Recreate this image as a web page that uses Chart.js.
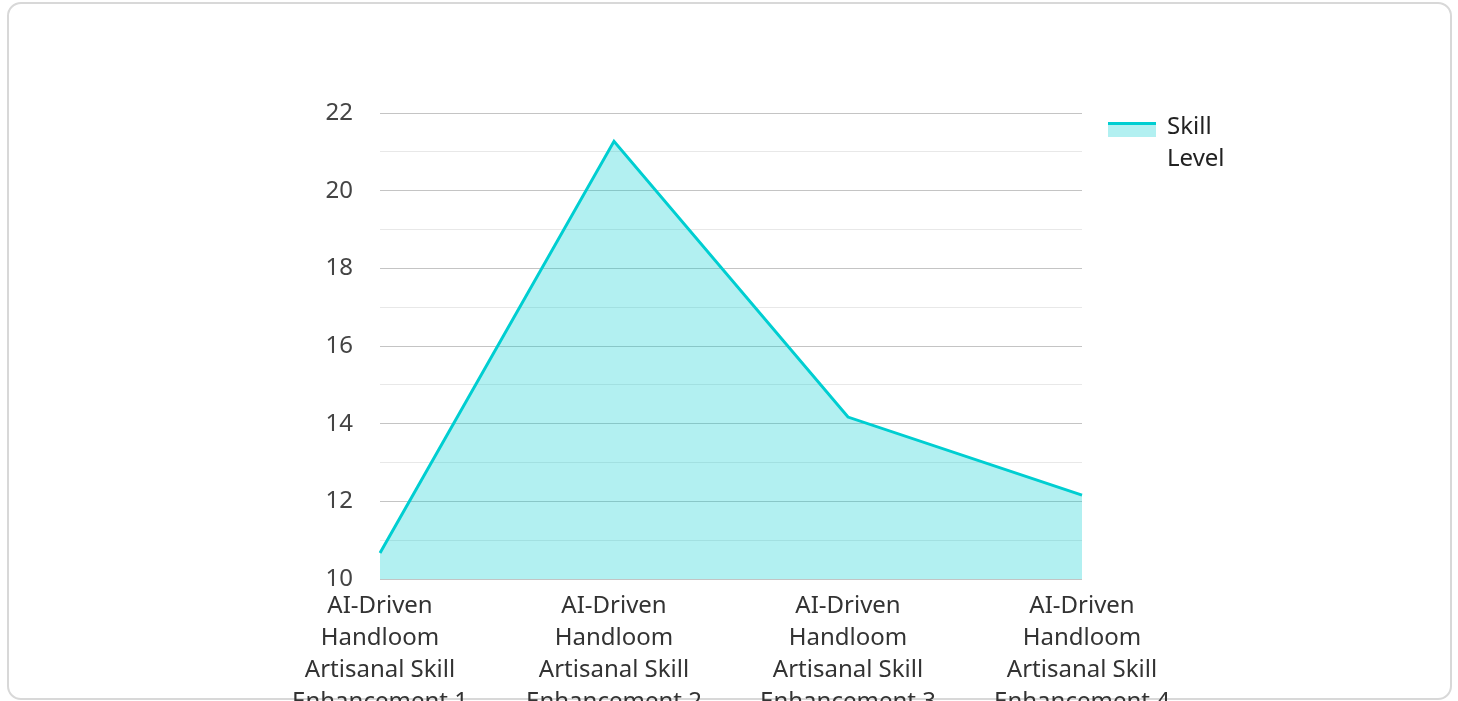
<!DOCTYPE html>
<html>
<head>
<meta charset="utf-8">
<script src="https://cdn.jsdelivr.net/npm/chart.js@4.4.0/dist/chart.umd.min.js"></script>
<style>
  html, body { margin: 0; padding: 0; width: 1458px; height: 701px; overflow: hidden; background: #fff; }
  #card { position: absolute; left: 7px; top: 2px; width: 1441px; height: 694px; border: 2px solid #d8d8d8; border-radius: 14px; }
  #wrap { position: absolute; left: 0; top: 0; width: 1458px; height: 740px; }
</style>
</head>
<body>
<div id="card"></div>
<div id="wrap"><canvas id="c" width="1458" height="740"></canvas></div>
<script>
const categories = [
  ["AI-Driven", "Handloom", "Artisanal Skill", "Enhancement 1"],
  ["AI-Driven", "Handloom", "Artisanal Skill", "Enhancement 2"],
  ["AI-Driven", "Handloom", "Artisanal Skill", "Enhancement 3"],
  ["AI-Driven", "Handloom", "Artisanal Skill", "Enhancement 4"]
];
const skillLevel = [10.67, 21.27, 14.17, 12.16];
const seriesName = ["Skill", "Level"];
const yMin = 10, yMax = 22, yStep = 1;

const LINE = '#00CED1';
const FILL = 'rgba(0,206,209,0.3)';
const FONT = '"Noto Sans", "Open Sans", sans-serif';

const legendPlugin = {
  id: 'customLegend',
  afterDraw(chart) {
    const ctx = chart.ctx;
    const x = chart.chartArea.right + 26;
    const y = 122;
    ctx.save();
    ctx.fillStyle = FILL;
    ctx.fillRect(x, y, 48, 15);
    ctx.strokeStyle = LINE;
    ctx.lineWidth = 3;
    ctx.beginPath();
    ctx.moveTo(x, y + 1.5);
    ctx.lineTo(x + 48, y + 1.5);
    ctx.stroke();
    ctx.fillStyle = '#222';
    ctx.font = '24px ' + FONT;
    ctx.textBaseline = 'alphabetic';
    ctx.textAlign = 'left';
    seriesName.forEach((t, i) => ctx.fillText(t, x + 59, 134 + i * 32));
    ctx.restore();
  }
};

new Chart(document.getElementById('c'), {
  type: 'line',
  data: {
    labels: categories,
    datasets: [{
      label: seriesName.join(' '),
      data: skillLevel,
      borderColor: LINE,
      backgroundColor: FILL,
      borderWidth: 3,
      fill: 'start',
      tension: 0,
      pointRadius: 0,
      pointHoverRadius: 0
    }]
  },
  options: {
    responsive: false,
    animation: false,
    devicePixelRatio: 1,
    layout: { padding: { left: 320, top: 113, right: 376, bottom: 11 } },
    plugins: { legend: { display: false }, tooltip: { enabled: false } },
    scales: {
      x: {
        grid: { display: false, drawTicks: false },
        border: { display: false },
        ticks: {
          color: '#333',
          font: { family: FONT, size: 24, lineHeight: 1.3333 },
          padding: 11,
          maxRotation: 0,
          autoSkip: false
        }
      },
      y: {
        min: yMin, max: yMax,
        afterFit(scale) { scale.width = 60; },
        grid: {
          drawTicks: false,
          color: (c) => (c.tick && c.tick.value % 2 === 0) ? '#c4c4c4' : '#e8e8e8',
          lineWidth: 1
        },
        border: { display: false },
        ticks: {
          stepSize: yStep,
          color: '#444',
          padding: 27,
          font: { family: FONT, size: 24 },
          callback: (v) => (v % 2 === 0 ? String(v) : '')
        }
      }
    }
  },
  plugins: [legendPlugin]
});
</script>
</body>
</html>
